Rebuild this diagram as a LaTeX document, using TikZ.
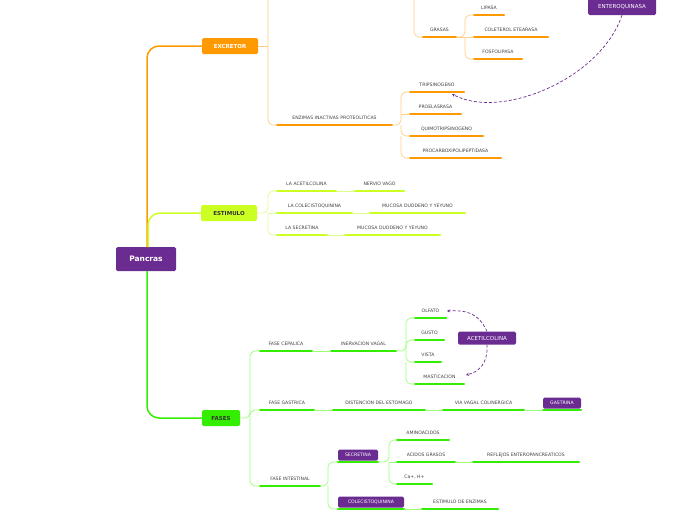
\documentclass[tikz,border=0pt]{standalone}
\usepackage{fontspec}
\setmainfont{DejaVu Sans}
\usetikzlibrary{arrows.meta}
\definecolor{purp}{HTML}{6A2C91}
\definecolor{orD}{HTML}{FF9900}
\definecolor{orL}{HTML}{FFCC88}
\definecolor{grD}{HTML}{33EE00}
\definecolor{grL}{HTML}{99FF77}
\definecolor{yeD}{HTML}{CCFF22}
\definecolor{yeL}{HTML}{DDFF88}
\begin{document}
\begin{tikzpicture}[x=1pt,y=-1pt,
  lbl/.style={font=\fontsize{4.6}{5}\selectfont, text=black!75, inner sep=0pt, anchor=base},
  box/.style={rounded corners=1.5pt, font=\fontsize{5.5}{6}\selectfont, inner sep=0pt, minimum height=13pt},
  pbox/.style={box, fill=purp, text=white},
  purdash/.style={purp, densely dashed, line width=0.7pt, -{Stealth[length=3pt,width=3pt]}},
  oc/.style={draw=orL, line width=0.7pt, rounded corners=5pt},
  gc/.style={draw=grL, line width=0.7pt, rounded corners=5pt},
  yc/.style={draw=yeL, line width=0.7pt, rounded corners=5pt}]
\useasboundingbox (0,0) rectangle (697,520);
% leaf: name, x1, x2, underline y, text, color
\newcommand\leaf[6]{%
  \coordinate (#1-w) at (#2,#4); \coordinate (#1-e) at (#3,#4);
  \draw[#6, line width=2.2pt, line cap=round] (#1-w) -- (#1-e);
  \node[lbl] (#1) at ({(#2+#3)/2},#4-5.5) {#5};}
% central
\node[pbox, minimum width=60pt, minimum height=24pt, font=\bfseries\fontsize{7.5}{8}\selectfont] (pan) at (146,259) {Pancras};
\node[box, fill=orD, text=white, minimum width=56pt, minimum height=16pt, font=\bfseries\fontsize{5.5}{6}\selectfont] (exc) at (230,46) {EXCRETOR};
\node[box, fill=yeD, text=black!80, minimum width=56pt, minimum height=16pt, font=\bfseries\fontsize{5.5}{6}\selectfont] (est) at (229,213) {ESTIMULO};
\node[box, fill=grD, text=black!80, minimum width=38pt, minimum height=16pt, font=\bfseries\fontsize{5.5}{6}\selectfont] (fas) at (221,418) {FASES};
\draw[orD, line width=1.5pt, rounded corners=12pt] (147,247) -- (147,46) -- (exc.west);
\draw[yeD, line width=1.5pt, rounded corners=12pt] (148,247) -- (148,213) -- (est.west);
\draw[grD, line width=1.5pt, rounded corners=12pt] (147,271) -- (147,418) -- (fas.west);
% EXCRETOR
\leaf{gra}{423}{456}{37}{GRASAS}{orD}
\leaf{lip}{474}{504}{15}{LIPASA}{orD}
\leaf{col}{474}{548}{37}{COLETEROL ETEARASA}{orD}
\leaf{fos}{474}{522}{59}{FOSFOLIPASA}{orD}
\leaf{enz}{277}{392}{125}{ENZIMAS INACTIVAS PROTEOLITICAS}{orD}
\leaf{tri}{410}{464}{92}{TRIPSINOGENO}{orD}
\leaf{pro}{410}{461}{114}{PROELASRASA}{orD}
\leaf{qui}{410}{483}{136}{QUIMOTRIPSINOGENO}{orD}
\leaf{pca}{410}{501}{158}{PROCARBOXIPOLIPEPTIDASA}{orD}
\coordinate (exctop) at (268,0);
\coordinate (gratop) at (414,0);
\path[oc] (exc.east) -- (268,46);
\path[oc] (exctop) -- (268,125) -- (enz-w);
\path[oc] (gratop) -- (414,37) -- (gra-w);
\path[oc] (gra-e) -- (465,37) -- (465,15) -- (lip-w);
\path[oc] (gra-e) -- (col-w);
\path[oc] (465,37) -- (465,59) -- (fos-w);
\path[oc] (enz-e) -- (401,125) -- (401,92) -- (tri-w);
\path[oc] (401,114) -- (pro-w);
\path[oc] (401,125) -- (401,136) -- (qui-w);
\path[oc] (401,136) -- (401,158) -- (pca-w);
\node[pbox, minimum width=68pt, minimum height=16pt] (ent) at (622,7) {ENTEROQUINASA};
\draw[purdash] (ent.south) .. controls (600,80) and (500,120) .. (452,94);
% ESTIMULO
\leaf{ace}{277}{336}{191}{LA ACETILCOLINA}{yeD}
\leaf{ner}{355}{404}{191}{NERVIO VAGO}{yeD}
\leaf{lcc}{277}{352}{213}{LA COLECISTOQUININA}{yeD}
\leaf{mu1}{370}{465}{213}{MUCOSA DUODENO Y YEYUNO}{yeD}
\leaf{sec}{277}{327}{235}{LA SECRETINA}{yeD}
\leaf{mu2}{345}{440}{235}{MUCOSA DUODENO Y YEYUNO}{yeD}
\path[yc] (est.east) -- (268,213) -- (268,191) -- (ace-w);
\path[yc] (268,213) -- (lcc-w);
\path[yc] (268,213) -- (268,235) -- (sec-w);
\path[yc] (ace-e) -- (ner-w);
\path[yc] (lcc-e) -- (mu1-w);
\path[yc] (sec-e) -- (mu2-w);
% FASES
\leaf{fce}{260}{312}{351}{FASE CEPALICA}{grD}
\leaf{inv}{331}{396}{351}{INERVACION VAGAL}{grD}
\leaf{olf}{415}{446}{318}{OLFATO}{grD}
\leaf{gus}{415}{444}{340}{GUSTO}{grD}
\leaf{vis}{415}{441}{362}{VISTA}{grD}
\leaf{mas}{415}{464}{384}{MASTICACION}{grD}
\node[pbox, minimum width=58pt] (acb) at (487,338) {ACETILCOLINA};
\leaf{fga}{260}{314}{410}{FASE GASTRICA}{grD}
\leaf{dis}{333}{425}{410}{DISTENCION DEL ESTOMAGO}{grD}
\leaf{via}{443}{524}{410}{VIA VAGAL COLINERGICA}{grD}
\node[pbox, minimum width=38pt, minimum height=11pt, font=\fontsize{4.6}{5}\selectfont] (gas) at (562,403) {GASTRINA};
\draw[grD, line width=2.2pt, line cap=round] (543,410) -- (581,410);
\leaf{fin}{260}{320}{486}{FASE INTESTINAL}{grD}
\node[pbox, minimum width=40pt, minimum height=11pt, font=\fontsize{4.6}{5}\selectfont] (scb) at (358,455) {SECRETINA};
\draw[grD, line width=2.2pt, line cap=round] (338,462) -- (378,462);
\leaf{ami}{397}{449}{440}{AMINOACIDOS}{grD}
\leaf{acg}{397}{455}{462}{ACIDOS GRASOS}{grD}
\leaf{ref}{473}{579}{462}{REFLEJOS ENTEROPANCREATICOS}{grD}
\leaf{cah}{397}{432}{484}{Ca+, H+}{grD}
\node[pbox, minimum width=66pt, minimum height=11pt, font=\fontsize{4.6}{5}\selectfont] (ccb) at (371,502) {COLECISTOQUININA};
\draw[grD, line width=2.2pt, line cap=round] (338,509) -- (404,509);
\leaf{ede}{422}{498}{509}{ESTIMULO DE ENZIMAS}{grD}
\path[gc] (fas.east) -- (250,418) -- (250,351) -- (fce-w);
\path[gc] (250,418) -- (250,410) -- (fga-w);
\path[gc] (250,418) -- (250,486) -- (fin-w);
\path[gc] (fce-e) -- (inv-w);
\path[gc] (inv-e) -- (406,351) -- (406,318) -- (olf-w);
\path[gc] (406,351) -- (406,340) -- (gus-w);
\path[gc] (406,351) -- (406,362) -- (vis-w);
\path[gc] (406,362) -- (406,384) -- (mas-w);
\path[gc] (fga-e) -- (dis-w);
\path[gc] (dis-e) -- (via-w);
\path[gc] (via-e) -- (543,410);
\path[gc] (fin-e) -- (328,486) -- (328,462) -- (338,462);
\path[gc] (328,486) -- (328,509) -- (338,509);
\path[gc] (378,462) -- (389,462) -- (389,440) -- (ami-w);
\path[gc] (389,462) -- (acg-w);
\path[gc] (389,462) -- (389,484) -- (cah-w);
\path[gc] (acg-e) -- (ref-w);
\path[gc] (404,509) -- (ede-w);
\draw[purdash] (acb.north) .. controls (478,312) and (465,310) .. (447,311);
\draw[purdash] (acb.south) .. controls (488,365) and (478,372) .. (466,375);
\end{tikzpicture}
\end{document}
